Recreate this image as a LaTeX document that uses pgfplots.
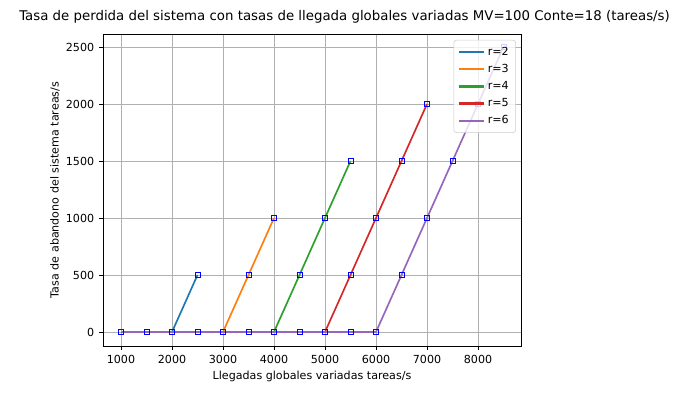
\documentclass[border=0pt]{standalone}
\usepackage{pgfplots}
\pgfplotsset{compat=1.18}
\usepackage{fontspec}
\setmainfont{DejaVu Sans}
\definecolor{c0}{HTML}{1F77B4}
\definecolor{c1}{HTML}{FF7F0E}
\definecolor{c2}{HTML}{2CA02C}
\definecolor{c3}{HTML}{D62728}
\definecolor{c4}{HTML}{9467BD}
\definecolor{gridc}{HTML}{B0B0B0}
\begin{document}
\begin{tikzpicture}
\path[use as bounding box] (-74.16pt,-36.72pt) rectangle (428.4pt,249.12pt);
\begin{axis}[
  at={(0pt,0pt)}, anchor=south west,
  scale only axis, width=300.96pt, height=224.64pt,
  xmin=647, xmax=8843, ymin=-123, ymax=2614,
  xtick={1000,2000,...,8000}, ytick={0,500,...,2500},
  /pgf/number format/assume math mode=true,
  /pgf/number format/1000 sep={},
  tick label style={font=\fontsize{8}{10}\selectfont},
  tick align=outside, major tick length=2.8pt,
  xtick pos=bottom, ytick pos=left,
  grid=major, grid style={color=gridc, line width=0.64pt},
  axis line style={line width=0.64pt},
  every tick/.style={black, line width=0.64pt},
  xlabel={Llegadas globales variadas tareas/s},
  ylabel={Tasa de abandono del sistema tareas/s},
  label style={font=\fontsize{8}{10}\selectfont},
  xlabel style={at={(axis description cs:0.5,0)}, anchor=center, yshift=-22pt},
  ylabel style={at={(axis description cs:0,0.5)}, anchor=center, yshift=34.6pt},
  legend style={at={(rel axis cs:0.988,0.981)}, anchor=north east,
    draw=black!20, rounded corners=2pt, fill=white, fill opacity=0.8, text opacity=1,
    font=\fontsize{8}{10}\selectfont, row sep=0.9pt, inner sep=3pt},
  legend cell align=left,
  legend image code/.code={\draw[#1, mark=none, line width=1.5pt, draw opacity=1] (0pt,0pt) -- (18pt,0pt);},
  clip=true,
  mk/.style={line width=1.2pt, mark=square, mark size=1.8pt, mark options={draw=blue, line width=0.7pt, fill=none}},
]
\addplot[c0, mk] coordinates {(1000,0)(1500,0)(2000,0)(2500,500)};
\addlegendentry{r=2}
\addplot[c1, mk] coordinates {(1000,0)(1500,0)(2000,0)(2500,0)(3000,0)(3500,500)(4000,1000)};
\addlegendentry{r=3}
\addplot[c2, mk] coordinates {(1000,0)(1500,0)(2000,0)(2500,0)(3000,0)(3500,0)(4000,0)(4500,500)(5000,1000)(5500,1500)};
\addlegendentry{r=4}
\addplot[c3, mk] coordinates {(1000,0)(1500,0)(2000,0)(2500,0)(3000,0)(3500,0)(4000,0)(4500,0)(5000,0)(5500,500)(6000,1000)(6500,1500)(7000,2000)};
\addlegendentry{r=5}
\addplot[c4, mk] coordinates {(1000,0)(1500,0)(2000,0)(2500,0)(3000,0)(3500,0)(4000,0)(4500,0)(5000,0)(5500,0)(6000,0)(6500,500)(7000,1000)(7500,1500)(8000,2000)(8500,2500)};
\addlegendentry{r=6}
\end{axis}
\node[font=\fontsize{9.6}{12}\selectfont, anchor=center] at (173.9pt,236.9pt) {Tasa de perdida del sistema con tasas de llegada globales variadas MV=100 Conte=18 (tareas/s)};
\end{tikzpicture}
\end{document}
